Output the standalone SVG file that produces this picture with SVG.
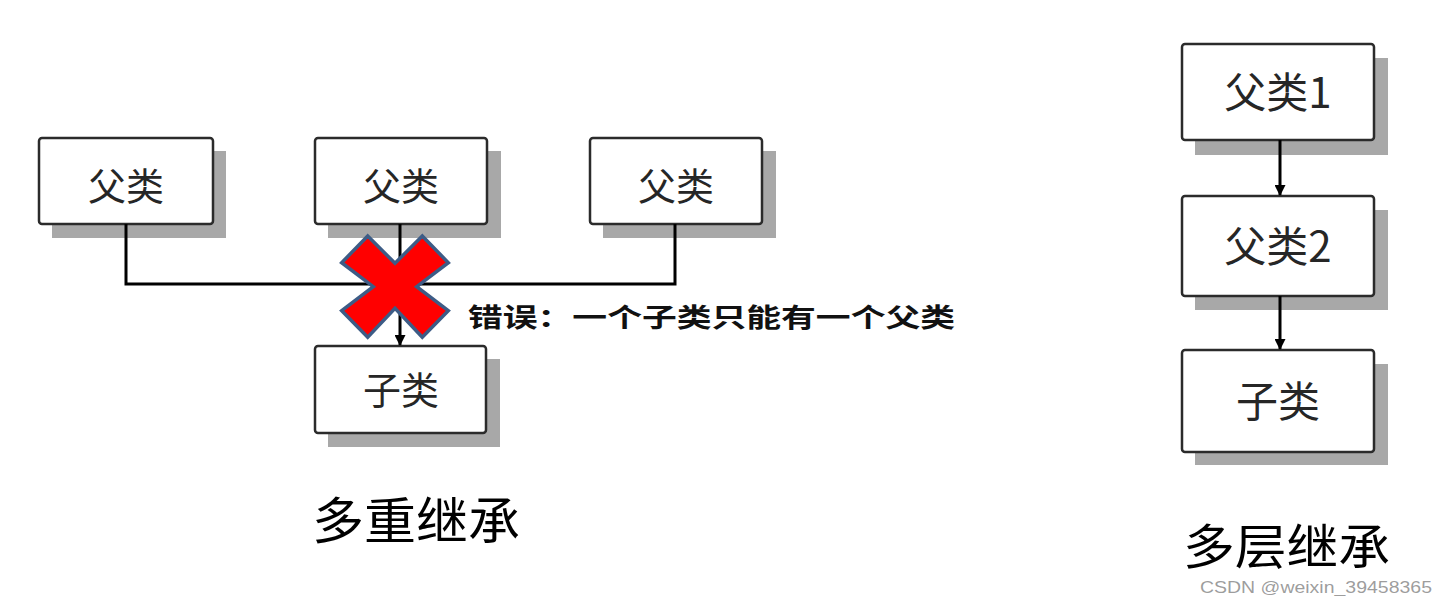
<svg xmlns="http://www.w3.org/2000/svg" width="1448" height="596" viewBox="0 0 1448 596">
<style>
.shadow{fill:#a8a8a8;}
.box{fill:#ffffff;stroke:#2b2b2b;stroke-width:2.5;}
.lbl{font-family:"Noto Sans CJK SC","Liberation Sans",sans-serif;fill:#262626;text-anchor:middle;}
.conn{fill:none;stroke:#000;stroke-width:3;}
.title{font-family:"Noto Sans CJK SC","Liberation Sans",sans-serif;fill:#000;}
</style>
<defs>
<marker id="arr" markerWidth="11" markerHeight="11" refX="10" refY="5.5" orient="auto" markerUnits="userSpaceOnUse">
<path d="M0,0 L11,5.5 L0,11 Z" fill="#000"/>
</marker>
</defs>
<rect width="1448" height="596" fill="#fff"/>

<g id="parent-a">
<rect class="shadow" x="52" y="151" width="174" height="87"/>
<rect class="box" x="39" y="138" width="174" height="86" rx="3"/>
<text class="lbl" x="126" y="200" font-size="38">父类</text>
</g>
<g id="parent-b">
<rect class="shadow" x="328" y="151" width="173" height="87"/>
<rect class="box" x="315" y="138" width="172" height="86" rx="3"/>
<text class="lbl" x="401" y="200" font-size="38">父类</text>
</g>
<g id="parent-c">
<rect class="shadow" x="603" y="151" width="173" height="87"/>
<rect class="box" x="590" y="138" width="172" height="86" rx="3"/>
<text class="lbl" x="676" y="200" font-size="38">父类</text>
</g>
<g id="child-multi">
<rect class="shadow" x="328" y="359" width="172" height="88"/>
<rect class="box" x="315" y="346" width="171" height="87" rx="3"/>
<text class="lbl" x="401" y="404" font-size="38">子类</text>
</g>

<g id="level-1">
<rect class="shadow" x="1195" y="58" width="193" height="97"/>
<rect class="box" x="1182" y="44" width="192" height="96" rx="3"/>
<text class="lbl" x="1278" y="108" font-size="42">父类1</text>
</g>
<g id="level-2">
<rect class="shadow" x="1195" y="210" width="193" height="100"/>
<rect class="box" x="1182" y="196" width="192" height="100" rx="3"/>
<text class="lbl" x="1278" y="262" font-size="42">父类2</text>
</g>
<g id="level-3">
<rect class="shadow" x="1195" y="364" width="193" height="101"/>
<rect class="box" x="1182" y="350" width="192" height="102" rx="3"/>
<text class="lbl" x="1278" y="417" font-size="42">子类</text>
</g>

<g id="connectors">
<polyline class="conn" points="126,224 126,284 675,284 675,224"/>
<line class="conn" x1="400" y1="224" x2="400" y2="345" marker-end="url(#arr)"/>
<line class="conn" x1="1280" y1="140" x2="1280" y2="195" marker-end="url(#arr)"/>
<line class="conn" x1="1280" y1="296" x2="1280" y2="349" marker-end="url(#arr)"/>
</g>

<g id="error-mark">
<polygon points="341.7,262.7 367.7,236 395,263.3 422.3,236 448.3,262.7 416.7,286.7 448.3,310.7 422.3,337.3 395,308.3 367.7,337.3 341.7,310.7 373.3,286.7" fill="#ff0000" stroke="#3d5c86" stroke-width="3.5" stroke-linejoin="miter"/>
</g>

<g id="error-label">
<text x="468" y="327" font-family="Noto Sans CJK SC, Liberation Sans, sans-serif" font-size="26" font-weight="bold" fill="#111" textLength="487" lengthAdjust="spacingAndGlyphs">错误：一个子类只能有一个父类</text>
</g>

<g id="titles">
<text class="title" x="312" y="539" font-size="50" textLength="208" lengthAdjust="spacingAndGlyphs">多重继承</text>
<text class="title" x="1183" y="564" font-size="48" textLength="207" lengthAdjust="spacingAndGlyphs">多层继承</text>
</g>

<text x="1200" y="593" font-family="Liberation Sans, Arial, sans-serif" font-size="17" fill="#8c8c8c" fill-opacity="0.85" textLength="232" lengthAdjust="spacingAndGlyphs">CSDN @weixin_39458365</text>
</svg>
